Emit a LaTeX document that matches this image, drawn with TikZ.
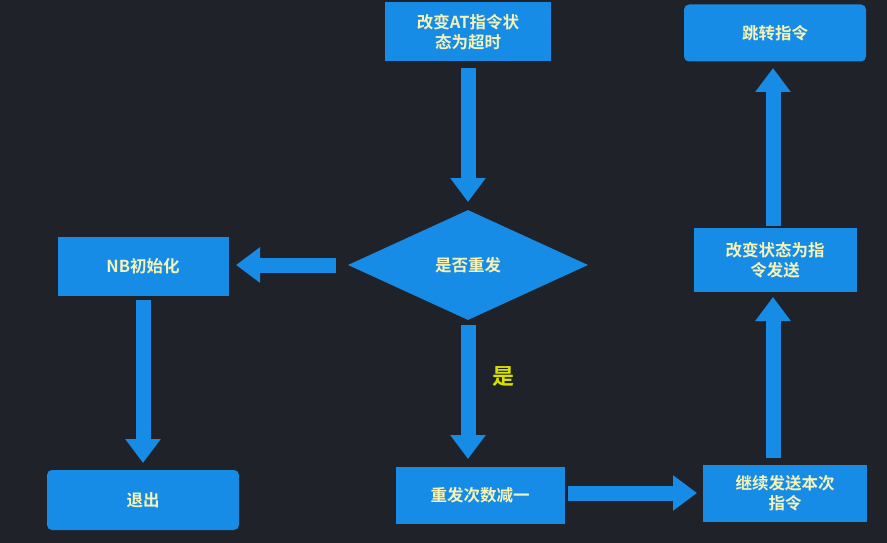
\documentclass[tikz,border=0pt]{standalone}
\usepackage{fontspec}
\newfontfamily\cjk{Noto Sans CJK SC}[BoldFont={Noto Sans CJK SC Bold}]
\usetikzlibrary{shapes.geometric,arrows.meta}
\definecolor{bg}{HTML}{1F2329}
\definecolor{boxblue}{HTML}{168CE6}
\definecolor{txt}{HTML}{F4F2B8}
\definecolor{yes}{HTML}{D8E000}
\tikzset{
  box/.style={fill=boxblue,draw=none,text=txt,font=\cjk\bfseries\fontsize{16.5}{20}\selectfont,align=center,inner sep=0pt},
  rbox/.style={box,rounded corners=5pt},
  dia/.style={diamond,fill=boxblue,text=txt,font=\cjk\bfseries\fontsize{16.5}{20}\selectfont,inner sep=0pt,minimum width=240pt,minimum height=110pt,aspect=2.2},
  flow/.style={draw=boxblue,line width=15pt,-{Triangle[width=34pt,length=24pt]}}
}
\begin{document}
\begin{tikzpicture}[x=1pt,y=-1pt]
\fill[bg] (0,0) rectangle (887,543);
\useasboundingbox (0,0) rectangle (887,543);
\node[box,minimum width=166pt,minimum height=59pt] (a) at (468,32) {改变AT指令状\\态为超时};
\node[dia] (d) at (468,265) {是否重发};
\node[box,minimum width=171pt,minimum height=59pt] (nb) at (143,266) {NB初始化};
\node[rbox,minimum width=192pt,minimum height=60pt] (ex) at (143,500) {退出};
\node[box,minimum width=169pt,minimum height=57pt] (r) at (480,495) {重发次数减一};
\node[box,minimum width=164pt,minimum height=57pt] (c) at (785,493) {继续发送本次\\指令};
\node[box,minimum width=163pt,minimum height=64pt] (s) at (775,260) {改变状态为指\\令发送};
\node[rbox,minimum width=182pt,minimum height=57pt] (j) at (775,33) {跳转指令};
\node[text=yes,font=\cjk\bfseries\fontsize{22}{24}\selectfont] (y) at (503,377) {是};
\coordinate (a1) at (468,68); \coordinate (a2) at (468,202);
\draw[flow] (a1) -- (a2);
\coordinate (b1) at (336,265); \coordinate (b2) at (236,265);
\draw[flow] (b1) -- (b2);
\coordinate (c1) at (143,300); \coordinate (c2) at (143,463);
\draw[flow] (c1) -- (c2);
\coordinate (d1) at (468,325); \coordinate (d2) at (468,459);
\draw[flow] (d1) -- (d2);
\coordinate (e1) at (568,493); \coordinate (e2) at (697,493);
\draw[flow] (e1) -- (e2);
\coordinate (f1) at (773,458); \coordinate (f2) at (773,297);
\draw[flow] (f1) -- (f2);
\coordinate (g1) at (773,226); \coordinate (g2) at (773,68);
\draw[flow] (g1) -- (g2);
\end{tikzpicture}
\end{document}
